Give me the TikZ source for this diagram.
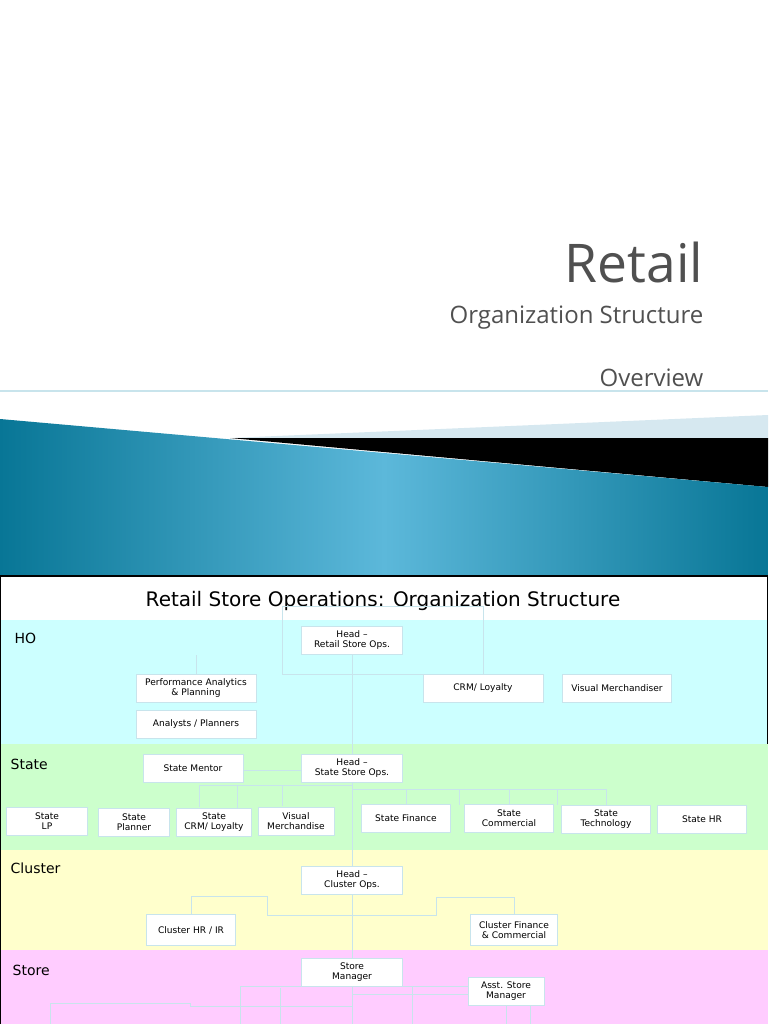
\documentclass[tikz,border=0pt]{standalone}
\usepackage{fontspec}
\setmainfont{DejaVu Sans}
\newfontfamily\titlefont{Open Sans}
\definecolor{hoc}{RGB}{204,255,255}
\definecolor{stc}{RGB}{204,255,204}
\definecolor{clc}{RGB}{255,255,204}
\definecolor{soc}{RGB}{255,204,255}
\definecolor{swdark}{RGB}{8,118,150}
\definecolor{swlight}{RGB}{92,184,218}
\definecolor{swpale}{RGB}{214,232,240}
\definecolor{lnc}{RGB}{200,228,236}
\definecolor{txg}{RGB}{80,80,80}
\begin{document}
\begin{tikzpicture}[x=0.75pt,y=-0.75pt,
  box/.style={fill=white,draw=lnc,line width=0.3pt,inner sep=1pt,align=center,font=\fontsize{6.8}{7.8}\selectfont,minimum height=21pt},
  conn/.style={draw=lnc,line width=0.6pt},
  band/.style={font=\fontsize{10.5}{12}\selectfont,anchor=west}]
\useasboundingbox (0,0) rectangle (768,1024);
\fill[white] (0,0) rectangle (768,1024);
% title area
\node[anchor=east,text=txg,font=\titlefont\fontsize{40}{44}\selectfont] (ttl) at (708,262) {Retail};
\node[anchor=east,text=txg,font=\titlefont\fontsize{18}{20}\selectfont] (sub) at (708,318) {Organization Structure};
\node[anchor=east,text=txg,font=\titlefont\fontsize{18}{20}\selectfont] (ovw) at (708,378) {Overview};
\draw[lnc,line width=0.8pt] (0,391) -- (768,391);
% swoosh
\fill[swpale] (230,438) -- (768,415) -- (768,438) -- cycle;
\fill[black] (230,438) -- (768,438) -- (768,487) -- cycle;
\shade[left color=swdark,right color=swdark,middle color=swlight] (0,419) -- (768,487) -- (768,576) -- (0,576) -- cycle;
% chart bands
\fill[white] (0,576) rectangle (768,620);
\fill[hoc] (0,620) rectangle (768,744);
\fill[stc] (0,744) rectangle (768,850);
\fill[clc] (0,850) rectangle (768,950);
\fill[soc] (0,950) rectangle (768,1024);
\draw[black,line width=0.8pt] (0,1024) -- (0,576) -- (768,576);
\draw[black,line width=0.8pt] (767.5,576) -- (767.5,744);
\draw[black,line width=0.8pt] (0,850) -- (0,1024);
\node[font=\fontsize{15}{17}\selectfont] (ctitle) at (383,601) {Retail Store Operations: Organization Structure};
\node[band] (lho) at (10,638) {HO};
\node[band] (lst) at (6,764) {State};
\node[band] (lcl) at (6,868) {Cluster};
\node[band] (lso) at (8,970) {Store};
% connectors
\draw[conn] (282,606) -- (483,606);
\draw[conn] (282,606) -- (282,674) -- (483,674);
\draw[conn] (483,606) -- (483,674);
\draw[conn] (352,655) -- (352,1024);
\draw[conn] (196,655) -- (196,674);
\draw[conn] (243,770) -- (302,770);
\draw[conn] (199,785) -- (352,785);
\draw[conn] (199,785) -- (199,807);
\draw[conn] (237,785) -- (237,808);
\draw[conn] (282,785) -- (282,806);
\draw[conn] (352,789) -- (606,789);
\draw[conn] (406,789) -- (406,805);
\draw[conn] (459,789) -- (459,805);
\draw[conn] (509,789) -- (509,805);
\draw[conn] (557,789) -- (557,805);
\draw[conn] (606,789) -- (606,805);
\draw[conn] (191,914) -- (191,896) -- (267,896) -- (267,915) -- (436,915) -- (436,897) -- (514,897) -- (514,915);
\draw[conn] (240,986) -- (470,986);
\draw[conn] (240,986) -- (240,1024);
\draw[conn] (280,988) -- (280,1024);
\draw[conn] (352,994) -- (470,994);
\draw[conn] (50,1003) -- (190,1003) -- (190,1006) -- (352,1006);
\draw[conn] (50,1003) -- (50,1024);
\draw[conn] (412,986) -- (412,1024);
\draw[conn] (506,1005) -- (506,1024);
\draw[conn] (530,1005) -- (530,1024);
% nodes
\node[box,minimum width=76pt] (hro) at (352,640) {Head –\\Retail Store Ops.};
\node[box,minimum width=90pt] (pap) at (196,688) {Performance Analytics\\\& Planning};
\node[box,minimum width=90pt] (anp) at (196,724) {Analysts / Planners};
\node[box,minimum width=90pt] (crm) at (483,688) {CRM/ Loyalty};
\node[box,minimum width=82pt] (vmr) at (617,688) {Visual Merchandiser};
\node[box,minimum width=75pt] (smt) at (193,768) {State Mentor};
\node[box,minimum width=76pt] (hso) at (352,768) {Head –\\State Store Ops.};
\node[box,minimum width=61pt] (slp) at (47,821) {State\\LP};
\node[box,minimum width=53pt] (spl) at (134,822) {State\\Planner};
\node[box,minimum width=56pt] (scr) at (214,822) {State\\CRM/ Loyalty};
\node[box,minimum width=57pt] (svm) at (296,821) {Visual\\Merchandise};
\node[box,minimum width=67pt] (sfi) at (406,818) {State Finance};
\node[box,minimum width=67pt] (sco) at (509,818) {State\\Commercial};
\node[box,minimum width=67pt] (ste) at (606,819) {State\\Technology};
\node[box,minimum width=67pt] (shr) at (702,819) {State HR};
\node[box,minimum width=76pt] (hcl) at (352,880) {Head –\\Cluster Ops.};
\node[box,minimum width=67pt,minimum height=23pt] (chr) at (191,930) {Cluster HR / IR};
\node[box,minimum width=65pt,minimum height=23pt] (cfc) at (514,930) {Cluster Finance\\\& Commercial};
\node[box,minimum width=76pt] (smg) at (352,972) {Store\\Manager};
\node[box,minimum width=57pt] (asm) at (506,991) {Asst. Store\\Manager};
\end{tikzpicture}
\end{document}
